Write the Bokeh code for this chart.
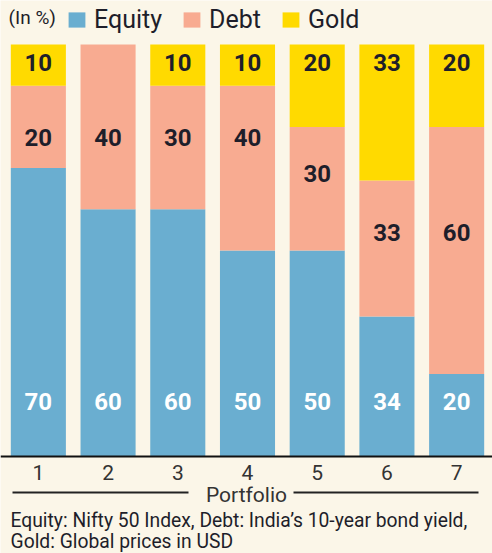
from bokeh.plotting import figure
from bokeh.models import ColumnDataSource, Legend, LegendItem, Label, BoxAnnotation
from bokeh.core.properties import value
from bokeh.embed import file_html
from bokeh.resources import INLINE

# ---- data ----
portfolios = [1, 2, 3, 4, 5, 6, 7]
tick_labels = ["1", "2", "3", "4", "5", "6", "7"]
equity = [70, 60, 60, 50, 50, 34, 20]
debt = [20, 40, 30, 40, 30, 33, 60]
gold = [10, 0, 10, 10, 20, 33, 20]
series_names = ["Equity", "Debt", "Gold"]

# ---- label layout (vertical positions in % units) ----
equity_label_y = 13.3
gold_label_y = 95.6
debt_label_y = [77.4, 77.4, 77.4, 77.4, 68.7, 54.4, 54.4]

BG = "#FBF6E8"
BLUE = "#6AAED0"
SALMON = "#F8AB91"
GOLD = "#FFDA00"
DARK = "#1E1E2A"
FONT = "Roboto"

W, H = 492, 553
src = ColumnDataSource(dict(x=portfolios, Equity=equity, Debt=debt, Gold=gold))

# frame covers the whole canvas; the 0..100 % band sits between canvas y=44 and y=456
px_x = 488 / 7.0
px_y = 412 / 100.0
p = figure(width=W, height=H,
           x_range=(0.5 - 3 / px_x, 7.5 + 1 / px_x),
           y_range=(-97 / px_y, 100 + 44 / px_y),
           output_backend="svg", toolbar_location=None, y_axis_location=None,
           min_border=0, background_fill_color=BG, border_fill_color=BG,
           outline_line_color=None)
p.grid.visible = False

rends = p.vbar_stack(series_names, x="x", width=0.79, color=[BLUE, SALMON, GOLD],
                     line_color=None, source=src)

# value labels
eq_src = ColumnDataSource(dict(x=portfolios, y=[equity_label_y] * len(equity),
                               t=[str(v) for v in equity]))
p.text(x="x", y="y", text="t", source=eq_src, text_align="center", text_baseline="middle",
       text_font=value(FONT), text_font_style="bold", text_font_size="24px", text_color="white")

db_src = ColumnDataSource(dict(x=portfolios, y=debt_label_y, t=[str(v) for v in debt]))
p.text(x="x", y="y", text="t", source=db_src, text_align="center", text_baseline="middle",
       text_font=value(FONT), text_font_style="bold", text_font_size="24px", text_color=DARK)

gx = [x for x, g in zip(portfolios, gold) if g > 0]
gt = [str(g) for g in gold if g > 0]
gd_src = ColumnDataSource(dict(x=gx, y=[gold_label_y] * len(gx), t=gt))
p.text(x="x", y="y", text="t", source=gd_src, text_align="center", text_baseline="middle",
       text_font=value(FONT), text_font_style="bold", text_font_size="24px", text_color=DARK)

# axis, pinned at 0 %
ax = p.xaxis[0]
ax.fixed_location = 0
ax.ticker = portfolios
ax.major_label_overrides = {x: t for x, t in zip(portfolios, tick_labels)}
ax.axis_line_width = 2
ax.axis_line_color = "#111111"
ax.major_tick_line_color = None
ax.minor_tick_line_color = None
ax.major_label_standoff = 2
ax.major_label_text_font = FONT
ax.major_label_text_font_size = "21px"
ax.major_label_text_color = "#333333"
ax.axis_label = "Portfolio"
ax.axis_label_standoff = 0
ax.axis_label_text_font = FONT
ax.axis_label_text_font_size = "21px"
ax.axis_label_text_font_style = "normal"
ax.axis_label_text_color = "#333333"

# legend
legend = Legend(items=[LegendItem(label=n, renderers=[r]) for n, r in zip(series_names, rends)],
                orientation="horizontal", location=(66, 519), glyph_width=21, glyph_height=19,
                label_text_font=FONT, label_text_font_size="25px", label_text_color=DARK,
                label_standoff=7, spacing=19, padding=2, margin=0,
                background_fill_alpha=0, border_line_color=None)
p.add_layout(legend)

p.add_layout(Label(x=8, y=H - 17, x_units="screen", y_units="screen", text="(In %)",
                   text_font=FONT, text_font_size="19px", text_color=DARK, text_baseline="middle"))

# portfolio side lines
for l, r in [(12, 188), (293, 478)]:
    p.add_layout(BoxAnnotation(left=l, right=r, top=H - 491, bottom=H - 493, left_units="screen",
                               right_units="screen", top_units="screen", bottom_units="screen",
                               fill_color="#222222", fill_alpha=1, line_color=None))

# footnote
p.add_layout(Label(x=10, y=H - 520, x_units="screen", y_units="screen",
                   text="Equity: Nifty 50 Index, Debt: India\u2019s 10-year bond yield,",
                   text_font=FONT, text_font_size="19.3px", text_color=DARK, text_baseline="middle"))
p.add_layout(Label(x=10, y=H - 541, x_units="screen", y_units="screen",
                   text="Gold: Global prices in USD",
                   text_font=FONT, text_font_size="19.3px", text_color=DARK, text_baseline="middle"))

open("out.html", "w").write(file_html(p, INLINE))
